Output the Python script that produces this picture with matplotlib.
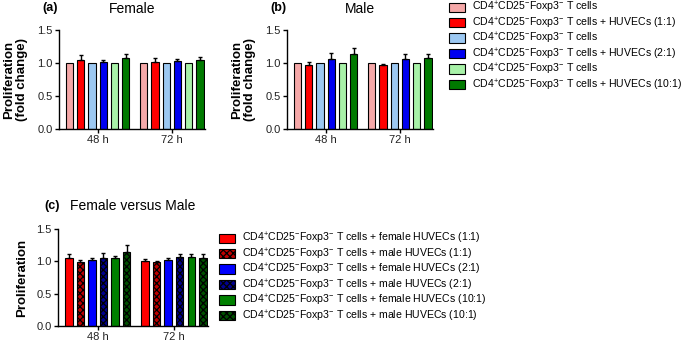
import numpy as np
import matplotlib
matplotlib.use("Agg")
import matplotlib.pyplot as plt
from matplotlib.patches import Patch
from matplotlib.ticker import FormatStrFormatter

plt.rcParams["font.family"] = ["Liberation Sans", "DejaVu Sans"]
plt.rcParams["mathtext.fontset"] = "custom"
plt.rcParams["mathtext.rm"] = "Liberation Sans"
plt.rcParams["mathtext.it"] = "Liberation Sans:italic"
plt.rcParams["mathtext.bf"] = "Liberation Sans:bold"
plt.rcParams["hatch.linewidth"] = 0.9

timepoints = ["48 h", "72 h"]

# order: T cells, +HUVECs 1:1, T cells, +HUVECs 2:1, T cells, +HUVECs 10:1
female_mean = [[1.00, 1.05, 1.00, 1.01, 1.00, 1.08],
               [1.00, 1.02, 1.00, 1.03, 1.00, 1.05]]
female_err = [[0, 0.07, 0, 0.03, 0, 0.05],
              [0, 0.05, 0, 0.03, 0, 0.04]]
male_mean = [[1.00, 0.97, 1.00, 1.06, 1.00, 1.13],
             [1.00, 0.97, 1.00, 1.06, 1.00, 1.08]]
male_err = [[0, 0.04, 0, 0.09, 0, 0.09],
            [0, 0.02, 0, 0.08, 0, 0.06]]

# female vs male HUVECs: f 1:1, m 1:1, f 2:1, m 2:1, f 10:1, m 10:1
cmp_mean = [[1.05, 0.99, 1.02, 1.05, 1.05, 1.15],
            [1.01, 0.99, 1.02, 1.06, 1.07, 1.05]]
cmp_err = [[0.06, 0.03, 0.03, 0.08, 0.04, 0.10],
           [0.02, 0.01, 0.03, 0.06, 0.04, 0.06]]

tcell = "CD4$^{+}$CD25$^{-}$Foxp3$^{-}$ T cells"
ab_labels = [tcell, tcell + " + HUVECs (1:1)", tcell, tcell + " + HUVECs (2:1)",
             tcell, tcell + " + HUVECs (10:1)"]
c_labels = [tcell + " + female HUVECs (1:1)", tcell + " + male HUVECs (1:1)",
            tcell + " + female HUVECs (2:1)", tcell + " + male HUVECs (2:1)",
            tcell + " + female HUVECs (10:1)", tcell + " + male HUVECs (10:1)"]

ab_colors = ["#F5A8A8", "#FF0000", "#9CC8F2", "#0000F0", "#A8F2A8", "#007A00"]
c_colors = ["#FF0000", "#C00000", "#0000FF", "#000090", "#008000", "#005000"]
c_hatches = ["", "xxxxx", "", "xxxxx", "", "xxxxx"]

group_step = 6.6
bar_w = 0.65


def panel(ax, means, errs, colors, hatches=None):
    if hatches is None:
        hatches = [""] * len(colors)
    for g in range(len(timepoints)):
        xs = g * group_step + np.arange(len(means[g]))
        for i, x in enumerate(xs):
            ax.bar(x, means[g][i], width=bar_w, color=colors[i], edgecolor="black",
                   linewidth=0.8, hatch=hatches[i], zorder=2)
            if errs[g][i] > 0:
                ax.errorbar(x, means[g][i], yerr=[[0], [errs[g][i]]], fmt="none",
                            ecolor="black", elinewidth=1.0, capsize=1.6,
                            capthick=1.0, zorder=3)
    ax.set_xlim(-0.94, 12.05)
    ax.set_ylim(0, 1.5)
    ax.set_yticks([0, 0.5, 1.0, 1.5])
    ax.yaxis.set_major_formatter(FormatStrFormatter("%.1f"))
    ax.set_xticks([g * group_step + 2.5 for g in range(len(timepoints))])
    ax.set_xticklabels(timepoints)
    for s in ["top", "right"]:
        ax.spines[s].set_visible(False)
    for s in ["left", "bottom"]:
        ax.spines[s].set_linewidth(1.0)
    ax.tick_params(axis="both", labelsize=8, length=3, width=1.0, pad=1.5,
                   labelcolor="#222222")


fig = plt.figure(figsize=(6.85, 3.42), dpi=100)
W, H = 685, 342

def add_axes(l, r, top, bot):
    return fig.add_axes([l / W, 1 - bot / H, (r - l) / W, (bot - top) / H])

ax_a = add_axes(59, 205, 30, 129)
ax_b = add_axes(287, 433, 30, 129)
ax_c = add_axes(58, 208, 229, 326)

panel(ax_a, female_mean, female_err, ab_colors)
panel(ax_b, male_mean, male_err, ab_colors)
panel(ax_c, cmp_mean, cmp_err, c_colors, c_hatches)

for ax, tag, title in [(ax_a, "(a)", "Female"), (ax_b, "(b)", "Male")]:
    ax.set_title(title, fontsize=10, pad=0, y=1.14, va="bottom")
    ax.text(-0.06, 1.22, tag, transform=ax.transAxes, fontsize=9,
            fontweight="bold", ha="center", va="center")
    ax.set_ylabel("Proliferation\n(fold change)", fontsize=9.5,
                  fontweight="bold", labelpad=7, linespacing=1.1)

ax_c.text(0.5, 1.24, "Female versus Male", transform=ax_c.transAxes,
          fontsize=10, ha="center", va="center")
ax_c.text(-0.04, 1.24, "(c)", transform=ax_c.transAxes, fontsize=9,
          fontweight="bold", ha="center", va="center")
ax_c.set_ylabel("Proliferation", fontsize=9.5, fontweight="bold", labelpad=6)

ab_handles = [Patch(facecolor=c, edgecolor="black", linewidth=0.8)
              for c in ab_colors]
c_handles = [Patch(facecolor=c, edgecolor="black", linewidth=0.8, hatch=h)
             for c, h in zip(c_colors, c_hatches)]

leg_kw = dict(frameon=False, fontsize=7.6, handlelength=1.5, handleheight=1.0,
              handletextpad=0.65, labelspacing=0.02, borderpad=0, borderaxespad=0,
              loc="upper left")
fig.legend(ab_handles, ab_labels, bbox_to_anchor=(449 / W, 1 - 0 / H), **leg_kw)
fig.legend(c_handles, c_labels, bbox_to_anchor=(219 / W, 1 - 231 / H), **leg_kw)

fig.savefig("out.png", dpi=100)
